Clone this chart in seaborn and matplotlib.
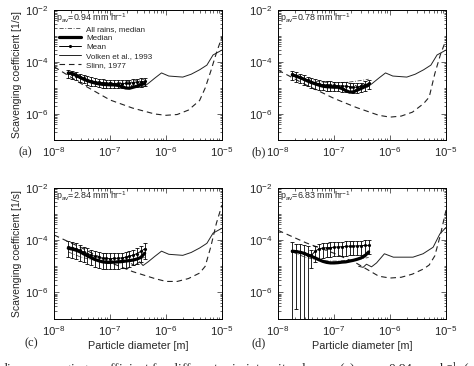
import numpy as np
import pandas as pd
import matplotlib
matplotlib.use("Agg")
import matplotlib.pyplot as plt
import matplotlib.ticker as mticker
from matplotlib.lines import Line2D
import seaborn as sns

# particle diameter bins [m]
diam = [1.80e-8, 2.11e-8, 2.46e-8, 2.88e-8, 3.37e-8, 3.95e-8, 4.62e-8, 5.40e-8,
        6.32e-8, 7.39e-8, 8.65e-8, 1.01e-7, 1.18e-7, 1.39e-7, 1.62e-7, 1.90e-7,
        2.22e-7, 2.60e-7, 3.04e-7, 3.55e-7, 4.16e-7]

# log10 of scavenging coefficient [1/s]
all_rains_log = [-4.45, -4.51, -4.57, -4.63, -4.67, -4.71, -4.74, -4.76, -4.78, -4.79, -4.80,
                 -4.80, -4.80, -4.79, -4.78, -4.77, -4.75, -4.73, -4.71, -4.69, -4.66]

median_a = [-4.42, -4.44, -4.50, -4.58, -4.66, -4.72, -4.77, -4.81, -4.84, -4.86, -4.87,
            -4.88, -4.88, -4.90, -4.95, -5.00, -5.01, -4.97, -4.93, -4.88, -4.82]
mean_a = [-4.42, -4.46, -4.52, -4.58, -4.63, -4.68, -4.72, -4.75, -4.78, -4.80, -4.81,
          -4.82, -4.83, -4.83, -4.83, -4.82, -4.81, -4.79, -4.77, -4.76, -4.74]
relstd_a = [0.35] * 21

median_b = [-4.50, -4.54, -4.60, -4.66, -4.73, -4.79, -4.84, -4.89, -4.93, -4.95, -4.96,
            -4.97, -4.97, -5.02, -5.10, -5.16, -5.15, -5.08, -5.02, -4.95, -4.88]
mean_b = [-4.48, -4.53, -4.59, -4.65, -4.71, -4.76, -4.80, -4.84, -4.87, -4.88, -4.89,
          -4.90, -4.91, -4.92, -4.93, -4.95, -4.97, -4.97, -4.94, -4.88, -4.82]
relstd_b = [0.4] * 21

median_c = [-4.31, -4.34, -4.38, -4.44, -4.52, -4.60, -4.67, -4.74, -4.79, -4.83, -4.85,
            -4.85, -4.84, -4.83, -4.82, -4.80, -4.78, -4.76, -4.72, -4.66, -4.50]
mean_c = [-4.25, -4.28, -4.32, -4.38, -4.45, -4.51, -4.57, -4.62, -4.66, -4.69, -4.70,
          -4.71, -4.70, -4.69, -4.68, -4.65, -4.61, -4.57, -4.51, -4.43, -4.33]
relstd_c = [0.6] * 21

median_d = [-4.42, -4.44, -4.46, -4.50, -4.56, -4.62, -4.68, -4.75, -4.81, -4.85, -4.87,
            -4.87, -4.86, -4.84, -4.83, -4.80, -4.77, -4.73, -4.68, -4.60, -4.45]
mean_d = [-4.40, -4.43, -4.47, -4.50, -4.55, -4.58, -4.42, -4.33, -4.30, -4.29, -4.28,
          -4.27, -4.26, -4.25, -4.24, -4.23, -4.22, -4.22, -4.21, -4.20, -4.20]
relstd_d = [1.09, 0.994, 1.2, 1.15, 1.1, 0.66, 0.6, 0.58, 0.57, 0.56, 0.56,
            0.55, 0.55, 0.55, 0.55, 0.55, 0.55, 0.55, 0.55, 0.55, 0.55]

# Slinn, 1977 (log10 diameter, log10 coefficient)
slinn_x = [-8.0, -7.5, -7.0, -6.6, -6.2, -6.0, -5.8, -5.6, -5.4, -5.3, -5.2, -5.1, -5.0]
slinn_a = [-4.18, -4.85, -5.46, -5.77, -6.00, -6.05, -6.02, -5.85, -5.48, -5.00, -4.35, -3.65, -3.03]
slinn_b = [-4.31, -4.88, -5.40, -5.75, -6.05, -6.12, -6.08, -5.93, -5.60, -5.35, -4.45, -3.72, -3.15]
slinn_c = [-3.80, -4.30, -4.85, -5.20, -5.47, -5.58, -5.58, -5.47, -5.26, -5.00, -4.25, -3.35, -2.65]
slinn_d = [-3.62, -4.10, -4.50, -4.88, -5.38, -5.45, -5.42, -5.30, -5.10, -4.95, -4.60, -3.80, -2.85]

# Volken et al., 1993
volken_x = [-6.62, -6.56, -6.47, -6.41, -6.32, -6.20, -6.08, -5.95, -5.70, -5.55, -5.40, -5.27, -5.16, -5.0]
volken_y = [-4.90, -4.97, -4.83, -4.97, -4.83, -4.62, -4.42, -4.54, -4.58, -4.47, -4.30, -4.12, -3.73, -3.54]
volken_d_x = [-6.56, -6.48, -6.42, -6.33, -6.24, -6.10, -5.94, -5.59, -5.41, -5.23, -5.11, -5.0]
volken_d_y = [-5.00, -5.04, -4.92, -5.02, -4.87, -4.52, -4.65, -4.65, -4.52, -4.27, -3.76, -3.51]

rain_rates = ["0.94", "0.78", "2.84", "6.83"]
panel_labels = ["(a)", "(b)", "(c)", "(d)"]

sns.set_style("ticks")
plt.rcParams["font.family"] = ["Liberation Sans", "DejaVu Sans"]
plt.rcParams["mathtext.default"] = "regular"

fig = plt.figure(figsize=(4.74, 3.66), dpi=100)
W, H = 474.0, 366.0
boxes = [(54, 10, 140), (278, 10, 140), (54, 188, 318.5), (278, 188, 318.5)]

panels = [
    (median_a, mean_a, relstd_a, slinn_a, volken_x, volken_y),
    (median_b, mean_b, relstd_b, slinn_b, volken_x, volken_y),
    (median_c, mean_c, relstd_c, slinn_c, volken_x, volken_y),
    (median_d, mean_d, relstd_d, slinn_d, volken_d_x, volken_d_y),
]

d = np.array(diam)
for i, (med, mn, rs, sl, vx, vy) in enumerate(panels):
    left, top, bottom = boxes[i]
    ax = fig.add_axes([left / W, 1 - bottom / H, 168 / W, (bottom - top) / H])
    ax.set_xscale("log")
    ax.set_yscale("log")

    sl_df = pd.DataFrame({"x": np.power(10.0, slinn_x), "y": np.power(10.0, sl)})
    sns.lineplot(data=sl_df, x="x", y="y", ax=ax, color="#222222", lw=0.8,
                 ls=(0, (5, 3.5)), estimator=None, sort=False)
    vo_df = pd.DataFrame({"x": np.power(10.0, vx), "y": np.power(10.0, vy)})
    sns.lineplot(data=vo_df, x="x", y="y", ax=ax, color="#222222", lw=0.7,
                 estimator=None, sort=False)
    ar_df = pd.DataFrame({"x": d, "y": np.power(10.0, all_rains_log)})
    sns.lineplot(data=ar_df, x="x", y="y", ax=ax, color="#444444", lw=0.6,
                 ls=(0, (5, 2, 1, 2)), estimator=None, sort=False)

    m = np.power(10.0, mn)
    s = m * np.array(rs)
    ax.errorbar(d, m, yerr=s, color="k", lw=0.7, elinewidth=0.6, capsize=1.5,
                capthick=0.6, marker=".", ms=2.5)
    md_df = pd.DataFrame({"x": d, "y": np.power(10.0, med)})
    sns.lineplot(data=md_df, x="x", y="y", ax=ax, color="k", lw=2.3,
                 estimator=None, sort=False)

    ax.set_xlim(1e-8, 1e-5)
    ax.set_ylim(1e-7, 1e-2)
    ax.xaxis.set_major_locator(mticker.FixedLocator([1e-8, 1e-7, 1e-6, 1e-5]))
    ax.yaxis.set_major_locator(mticker.FixedLocator([1e-6, 1e-4, 1e-2]))
    ax.xaxis.set_minor_locator(mticker.LogLocator(base=10, subs=np.arange(2, 10)))
    ax.yaxis.set_minor_locator(mticker.LogLocator(base=10, subs=np.arange(1, 10), numticks=20))
    ax.yaxis.set_minor_formatter(mticker.NullFormatter())
    ax.xaxis.set_minor_formatter(mticker.NullFormatter())
    ax.tick_params(which="both", direction="in", top=True, right=True, labelsize=8.2, width=0.5)
    ax.tick_params(which="major", length=3.5, pad=4)
    ax.tick_params(which="minor", length=1.8)
    for sp in ax.spines.values():
        sp.set_linewidth(0.7)
        sp.set_color("k")

    ax.set_xlabel("")
    ax.set_ylabel("")
    if i % 2 == 0:
        ax.set_ylabel("Scavenging coefficient [1/s]", fontsize=7.5, labelpad=2)
    if i >= 2:
        ax.set_xlabel("Particle diameter [m]", fontsize=7.8, labelpad=2)

    ax.text(0.012, 0.99, r"p$_{av}$=" + rain_rates[i] + " mm hr$^{-1}$",
            transform=ax.transAxes, ha="left", va="top", fontsize=6.4)

    if i == 0:
        handles = [
            Line2D([], [], color="#444444", lw=0.6, ls=(0, (5, 2, 1, 2))),
            Line2D([], [], color="k", lw=2.3),
            Line2D([], [], color="k", lw=0.7, marker=".", ms=2.5),
            Line2D([], [], color="#222222", lw=0.7),
            Line2D([], [], color="#222222", lw=0.8, ls=(0, (5, 3.5))),
        ]
        labels = ["All rains, median", "Median", "Mean", "Volken et al., 1993", "Slinn, 1977"]
        ax.legend(handles, labels, loc="upper left", bbox_to_anchor=(0.03, 0.88),
                  frameon=False, fontsize=5.8, borderpad=0, borderaxespad=0,
                  labelspacing=0.15, handlelength=2.7, handletextpad=0.7)

label_pos = [(25, 152), (259, 152), (31, 343), (259, 343)]
for (px, py), lab in zip(label_pos, panel_labels):
    fig.text(px / W, 1 - py / H, lab, ha="center", va="center", fontsize=9,
             family=["Liberation Serif", "DejaVu Serif"])

fig.text(0.0, 1 - 360 / H,
         r"dian scavenging coefficient for different rain intensity classes. (a) $p_{av}$ = 0.94 mm h$^{-1}$, (",
         ha="left", va="top", fontsize=9.7, family=["Liberation Serif", "DejaVu Serif"])

fig.savefig("out.png", dpi=100)
